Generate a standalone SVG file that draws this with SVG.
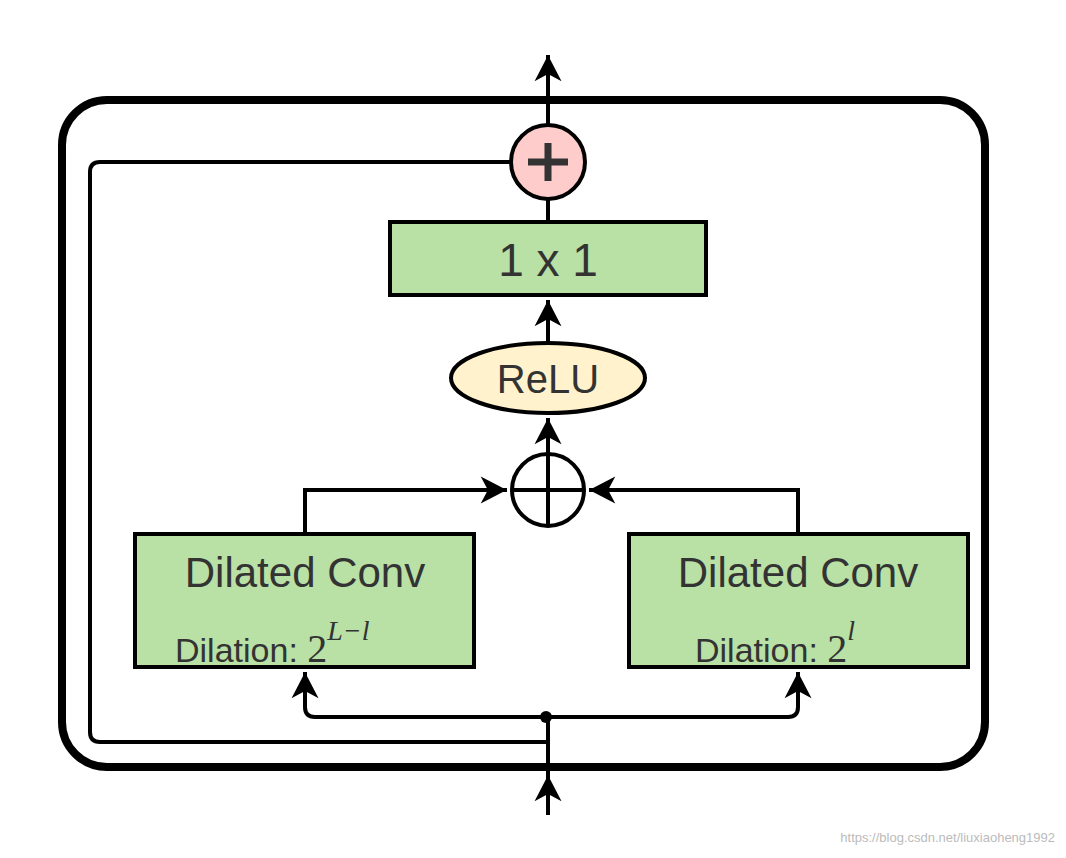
<svg xmlns="http://www.w3.org/2000/svg" width="1066" height="858" viewBox="0 0 1066 858">
<style>
.s{fill:none;stroke:#000;stroke-width:4}
.t{font-family:"Liberation Sans",Arial,sans-serif;fill:#333;text-anchor:middle}
.m{font-family:"Liberation Serif","Times New Roman",serif;fill:#333}
</style>
<defs>
<marker id="a" markerWidth="12" markerHeight="12" viewBox="0 0 12 12" refX="11" refY="6" orient="auto" markerUnits="userSpaceOnUse" style="overflow:visible">
<path d="M-18,-9 L11,6 L-18,21 L-10,6 Z" fill="#000" transform="scale(0.9) translate(1,0.7)"/>
</marker>
</defs>
<rect x="62" y="100" width="923" height="667" rx="45" fill="none" stroke="#000" stroke-width="8"/>
<g id="connectors">
<path class="s" d="M548,815 V775" marker-end="url(#a)"/>
<path class="s" d="M548,775 V717"/>
<path class="s" d="M512,162 H100 Q90,162 90,172 V732 Q90,742 100,742 H548"/>
<path class="s" d="M546,717 H315 Q305,717 305,707 V672" marker-end="url(#a)"/>
<path class="s" d="M546,717 H788 Q798,717 798,707 V672" marker-end="url(#a)"/>
<path class="s" d="M305,534 V490 H507" marker-end="url(#a)"/>
<path class="s" d="M798,534 V490 H589" marker-end="url(#a)"/>
<path class="s" d="M548,454 V418" marker-end="url(#a)"/>
<path class="s" d="M548,343 V300" marker-end="url(#a)"/>
<path class="s" d="M548,222 V199"/>
<path class="s" d="M548,125 V55" marker-end="url(#a)"/>
<circle cx="546" cy="717" r="6" fill="#000"/>
</g>
<g id="add"><circle cx="548" cy="162" r="37" fill="#ffcccc" stroke="#000" stroke-width="4"/>
<path d="M548,143 V181 M528,162 H568" stroke="#333" stroke-width="7"/></g>
<g id="conv1x1"><rect x="390" y="222" width="316" height="73" fill="#b9e0a5" stroke="#000" stroke-width="4"/>
<text class="t" x="548" y="276" font-size="46">1 x 1</text></g>
<g id="relu"><ellipse cx="548" cy="378" rx="97" ry="35" fill="#fff2cc" stroke="#000" stroke-width="4"/>
<text class="t" x="548" y="393" font-size="40">ReLU</text></g>
<g id="sum"><circle cx="548" cy="490" r="36" fill="#fff" stroke="#000" stroke-width="4"/>
<path d="M548,454 V526 M512,490 H584" stroke="#000" stroke-width="4"/></g>
<g id="convL"><rect x="135" y="534" width="339" height="133" fill="#b9e0a5" stroke="#000" stroke-width="4"/>
<text class="t" x="305" y="587" font-size="42">Dilated Conv</text>
<text x="175" y="662" font-size="34" font-family="Liberation Sans,Arial,sans-serif" fill="#333">Dilation: <tspan class="m" font-size="40">2</tspan><tspan class="m" font-size="28" font-style="italic" dy="-22">L−l</tspan></text></g>
<g id="convR"><rect x="629" y="534" width="339" height="133" fill="#b9e0a5" stroke="#000" stroke-width="4"/>
<text class="t" x="798" y="587" font-size="42">Dilated Conv</text>
<text x="695" y="662" font-size="34" font-family="Liberation Sans,Arial,sans-serif" fill="#333">Dilation: <tspan class="m" font-size="40">2</tspan><tspan class="m" font-size="28" font-style="italic" dy="-22">l</tspan></text></g>
<text x="1055" y="842" font-size="13" fill="#bbb" text-anchor="end" font-family="Liberation Sans,Arial,sans-serif">https://blog.csdn.net/liuxiaoheng1992</text>
</svg>
